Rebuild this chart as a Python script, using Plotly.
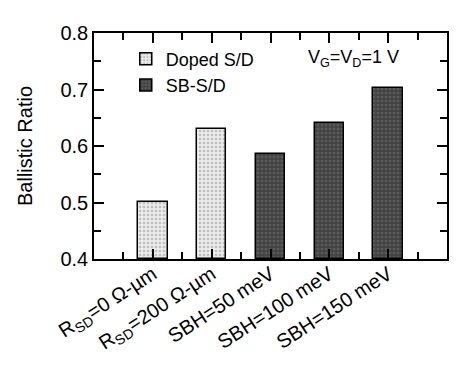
import plotly.graph_objects as go

categories = ["R<sub>SD</sub>=0 Ω-µm", "R<sub>SD</sub>=200 Ω-µm", "SBH=50 meV", "SBH=100 meV", "SBH=150 meV"]
positions = [1, 2, 3, 4, 5]
doped_x = [1, 2]
doped_vals = [0.501, 0.630]
sb_x = [3, 4, 5]
sb_vals = [0.586, 0.640, 0.702]
yticks = [0.4, 0.5, 0.6, 0.7, 0.8]
ytick_labels = ["0.4", "0.5", "0.6", "0.7", "0.8"]
BASE = 0.4

FONT = "Liberation Sans, Arial, sans-serif"

fig = go.Figure()
fig.add_trace(go.Bar(
    x=doped_x, y=[v - BASE for v in doped_vals], base=BASE, name="Doped S/D", width=0.5,
    marker=dict(color="#e6e6e6", line=dict(color="black", width=1.5),
                pattern=dict(shape=".", fgcolor="#8f8f8f", bgcolor="#ececec", size=4, solidity=0.35)),
))
fig.add_trace(go.Bar(
    x=sb_x, y=[v - BASE for v in sb_vals], base=BASE, name="SB-S/D", width=0.5,
    marker=dict(color="#444444", line=dict(color="black", width=1.5),
                pattern=dict(shape="+", fgcolor="#111111", bgcolor="#5a5a5a", size=4, solidity=0.4)),
))

fig.add_annotation(
    x=0.735, y=0.885, xref="paper", yref="paper", xanchor="center", yanchor="middle",
    text="V<sub>G</sub>=V<sub>D</sub>=1 V", showarrow=False,
    font=dict(size=18, color="black", family=FONT),
)

fig.update_layout(
    width=474, height=374, autosize=False,
    margin=dict(l=94, r=27, t=33, b=115, autoexpand=False),
    paper_bgcolor="white", plot_bgcolor="white",
    font=dict(family=FONT, color="black"),
    showlegend=True,
    legend=dict(x=0.09, y=0.967, xanchor="left", yanchor="top",
                font=dict(size=18, family=FONT), bgcolor="rgba(0,0,0,0)",
                itemwidth=30, tracegroupgap=0),
    bargap=0,
)
fig.update_xaxes(
    range=[0, 6], tickvals=positions, ticktext=categories, tickangle=-33,
    ticks="inside", ticklen=10, tickwidth=1.5, tickcolor="black",
    showline=True, linecolor="black", linewidth=1.5, mirror="allticks",
    showgrid=False, zeroline=False, automargin=False,
    ticklabelstandoff=-6,
    tickfont=dict(size=20, family=FONT),
    minor=dict(tickvals=[0.5, 1.5, 2.5, 3.5, 4.5, 5.5], ticks="inside", ticklen=7,
               tickwidth=1.5, tickcolor="black", showgrid=False),
)
fig.update_yaxes(
    range=[0.4, 0.8], tickvals=yticks, ticktext=ytick_labels,
    ticks="inside", ticklen=10, tickwidth=1.5, tickcolor="black",
    showline=True, linecolor="black", linewidth=1.5, mirror="allticks",
    showgrid=False, zeroline=False, automargin=False,
    tickfont=dict(size=20, family=FONT),
    title=dict(text="Ballistic Ratio", font=dict(size=20, family=FONT), standoff=22),
    minor=dict(dtick=0.05, ticks="inside", ticklen=7, tickwidth=1.5,
               tickcolor="black", showgrid=False),
)

fig.write_html(
    "out.html",
    config={"displayModeBar": False, "responsive": False},
    post_script="document.body.style.margin='0';document.body.style.overflow='hidden';",
)
